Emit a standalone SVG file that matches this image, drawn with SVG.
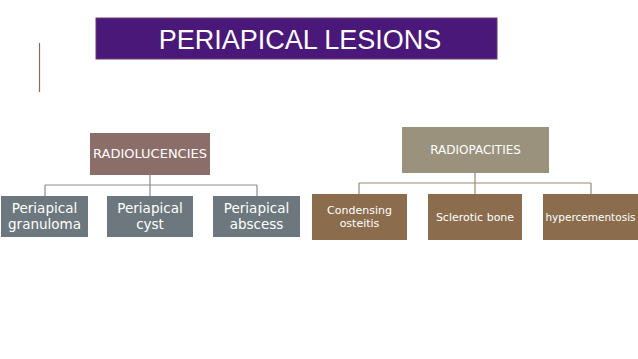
<svg xmlns="http://www.w3.org/2000/svg" width="638" height="359" viewBox="0 0 638 359">
<style>
.t{font-family:"DejaVu Sans","Liberation Sans",sans-serif;fill:#ffffff;text-anchor:middle}
.c{fill:none;stroke-width:1.2}
</style>
<rect width="638" height="359" fill="#ffffff"/>
<line x1="39.5" y1="43" x2="39.5" y2="92" stroke="#8a6a5a" stroke-width="1.2"/>
<g id="title">
<rect x="96" y="18" width="401" height="41" fill="#4a1878" stroke="#6a3a6a" stroke-width="1"/>
<text x="300" y="49" font-family="Liberation Sans, Arial, sans-serif" font-size="27" fill="#ffffff" text-anchor="middle">PERIAPICAL LESIONS</text>
</g>
<g id="connectors">
<path class="c" stroke="#8c8c8c" d="M150,175V185M45,185H257M45,185V196M150,185V196M257,185V196"/>
<path class="c" stroke="#9a8a72" d="M475,173V183M359,183H591M359,183V194M475,183V194M591,183V194"/>
</g>
<g id="radiolucencies">
<rect x="90" y="133" width="120" height="42" fill="#8b6e6a"/>
<text class="t" x="150" y="158" font-size="13">RADIOLUCENCIES</text>
</g>
<g id="granuloma">
<rect x="1" y="196" width="87" height="41" fill="#6d787e"/>
<text class="t" x="44.5" y="213" font-size="13.5">Periapical</text>
<text class="t" x="44.5" y="229" font-size="13.5">granuloma</text>
</g>
<g id="cyst">
<rect x="107" y="196" width="86" height="41" fill="#6d787e"/>
<text class="t" x="150" y="213" font-size="13.5">Periapical</text>
<text class="t" x="150" y="229" font-size="13.5">cyst</text>
</g>
<g id="abscess">
<rect x="213" y="196" width="87" height="41" fill="#6d787e"/>
<text class="t" x="256.5" y="213" font-size="13.5">Periapical</text>
<text class="t" x="256.5" y="229" font-size="13.5">abscess</text>
</g>
<g id="radiopacities">
<rect x="402" y="127" width="147" height="46" fill="#9a927c"/>
<text class="t" x="475.5" y="154" font-size="12">RADIOPACITIES</text>
</g>
<g id="condensing">
<rect x="312" y="194" width="95" height="46" fill="#8b6d4e"/>
<text class="t" x="359.5" y="214" font-size="11">Condensing</text>
<text class="t" x="359.5" y="227" font-size="11">osteitis</text>
</g>
<g id="sclerotic">
<rect x="428" y="194" width="94" height="46" fill="#8b6d4e"/>
<text class="t" x="475" y="221" font-size="11">Sclerotic bone</text>
</g>
<g id="hypercementosis">
<rect x="543" y="194" width="95" height="46" fill="#8b6d4e"/>
<text class="t" x="590.5" y="221" font-size="10.5">hypercementosis</text>
</g>
</svg>
